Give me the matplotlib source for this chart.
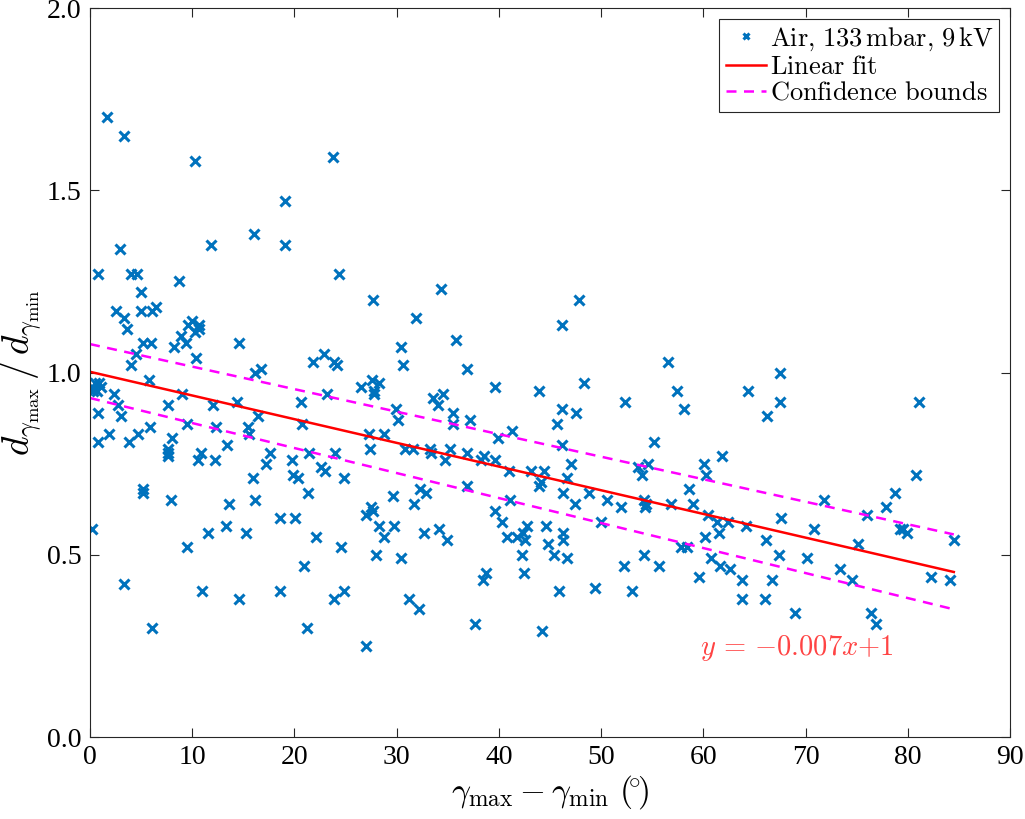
import numpy as np
import matplotlib
matplotlib.use('Agg')
import matplotlib.pyplot as plt
from matplotlib.ticker import FormatStrFormatter

# gamma_max - gamma_min (deg)
gamma_diff = [
    1.7, 3.3, 10.3, 23.8, 19.1, 16.0, 11.8, 19.1, 2.9, 0.8,
    4.0, 4.6, 8.7, 5.0, 2.5, 3.3, 5.0, 6.1, 6.5, 3.6,
    9.6, 10.0, 10.7, 10.3, 10.7, 8.9, 5.2, 6.0, 8.2, 9.4,
    14.6, 4.5, 4.0, 10.4, 21.8, 22.9, 16.1, 16.7, 5.8, 0.2,
    0.5, 0.9, 0.7, 0.3, 1.1, 2.3, 2.7, 0.8, 3.0, 9.0,
    7.6, 12.0, 14.4, 16.4, 20.6, 23.2, 9.5, 12.3, 5.9, 15.5,
    15.6, 20.7, 0.8, 1.9, 3.8, 4.7, 8.0, 7.6, 7.6, 7.6,
    10.9, 10.6, 12.2, 13.4, 17.6, 17.2, 19.8, 21.4, 22.6, 23.0,
    15.9, 19.9, 20.3, 21.3, 5.2, 5.2, 7.9, 13.6, 16.1, 18.6,
    20.1, 0.2, 13.3, 11.5, 15.3, 22.1, 9.5, 20.9, 3.3, 11.0,
    14.6, 18.6, 6.1, 21.2,
    24.4, 27.7, 34.3, 31.9, 35.8, 30.4, 30.6, 36.9, 46.2, 23.9,
    24.2, 26.5, 27.6, 28.3, 27.8, 27.8, 39.6, 43.9, 33.6, 34.5,
    34.0, 29.9, 30.1, 35.5, 35.5, 37.2, 46.2, 45.7, 46.2, 41.3,
    39.9, 27.3, 28.8, 27.4, 24.0, 30.8, 31.6, 33.3, 33.4, 35.2,
    34.7, 36.9, 38.2, 38.5, 39.6, 41.0, 43.1, 44.4, 44.1, 43.9,
    46.3, 24.8, 36.9, 32.3, 32.9, 29.6, 31.7, 41.1, 27.5, 27.0,
    27.7, 39.6, 40.3, 28.3, 29.7, 28.8, 32.7, 34.1, 34.9, 42.7,
    40.8, 41.8, 42.4, 42.6, 44.6, 44.8, 45.4, 46.3, 46.3, 24.6,
    28.0, 30.4, 42.3, 42.5, 38.7, 38.4, 45.9, 23.9, 24.8, 31.2,
    32.2, 37.7, 44.2, 27.0,
    47.8, 56.5, 67.5, 48.3, 57.4, 64.4, 52.3, 58.1, 67.5, 66.2,
    47.5, 55.2, 47.1, 46.7, 53.6, 54.6, 54.0, 60.1, 60.3, 61.8,
    48.8, 47.4, 50.6, 51.9, 50.0, 54.2, 54.4, 54.3, 56.8, 58.6,
    59.0, 60.5, 61.3, 62.4, 61.5, 64.2, 67.6, 60.2, 66.1, 46.7,
    57.8, 58.4, 54.2, 52.2, 55.7, 60.7, 61.6, 62.6, 67.4, 59.6,
    63.8, 66.7, 49.4, 53.0, 63.8, 66.0, 69.0,
    81.1, 80.8, 78.7, 77.9, 71.8, 76.0, 70.8, 79.2, 79.5, 79.9,
    84.5, 75.1, 70.1, 73.4, 74.5, 82.3, 84.1, 76.4, 76.9,
]

# d_gamma_max / d_gamma_min
d_ratio = [
    1.70, 1.65, 1.58, 1.59, 1.47, 1.38, 1.35, 1.35, 1.34, 1.27,
    1.27, 1.27, 1.25, 1.22, 1.17, 1.15, 1.17, 1.17, 1.18, 1.12,
    1.13, 1.14, 1.13, 1.11, 1.12, 1.10, 1.08, 1.08, 1.07, 1.08,
    1.08, 1.05, 1.02, 1.04, 1.03, 1.05, 1.00, 1.01, 0.98, 0.96,
    0.97, 0.97, 0.95, 0.95, 0.96, 0.94, 0.91, 0.89, 0.88, 0.94,
    0.91, 0.91, 0.92, 0.88, 0.92, 0.94, 0.86, 0.85, 0.85, 0.85,
    0.83, 0.86, 0.81, 0.83, 0.81, 0.83, 0.82, 0.79, 0.78, 0.77,
    0.78, 0.76, 0.76, 0.80, 0.78, 0.75, 0.76, 0.78, 0.74, 0.73,
    0.71, 0.72, 0.71, 0.67, 0.68, 0.67, 0.65, 0.64, 0.65, 0.60,
    0.60, 0.57, 0.58, 0.56, 0.56, 0.55, 0.52, 0.47, 0.42, 0.40,
    0.38, 0.40, 0.30, 0.30,
    1.27, 1.20, 1.23, 1.15, 1.09, 1.07, 1.02, 1.01, 1.13, 1.03,
    1.02, 0.96, 0.98, 0.97, 0.95, 0.94, 0.96, 0.95, 0.93, 0.94,
    0.91, 0.90, 0.87, 0.89, 0.86, 0.87, 0.90, 0.86, 0.80, 0.84,
    0.82, 0.83, 0.83, 0.79, 0.78, 0.79, 0.79, 0.79, 0.78, 0.79,
    0.76, 0.78, 0.76, 0.77, 0.76, 0.73, 0.73, 0.73, 0.70, 0.69,
    0.67, 0.71, 0.69, 0.68, 0.67, 0.66, 0.64, 0.65, 0.63, 0.61,
    0.62, 0.62, 0.59, 0.58, 0.58, 0.55, 0.56, 0.57, 0.54, 0.58,
    0.55, 0.55, 0.56, 0.54, 0.58, 0.53, 0.50, 0.56, 0.54, 0.52,
    0.50, 0.49, 0.50, 0.45, 0.45, 0.43, 0.40, 0.38, 0.40, 0.38,
    0.35, 0.31, 0.29, 0.25,
    1.20, 1.03, 1.00, 0.97, 0.95, 0.95, 0.92, 0.90, 0.92, 0.88,
    0.89, 0.81, 0.75, 0.71, 0.74, 0.75, 0.72, 0.75, 0.72, 0.77,
    0.67, 0.64, 0.65, 0.63, 0.59, 0.65, 0.64, 0.63, 0.64, 0.68,
    0.64, 0.61, 0.59, 0.59, 0.56, 0.58, 0.60, 0.55, 0.54, 0.49,
    0.52, 0.52, 0.50, 0.47, 0.47, 0.49, 0.47, 0.46, 0.50, 0.44,
    0.43, 0.43, 0.41, 0.40, 0.38, 0.38, 0.34,
    0.92, 0.72, 0.67, 0.63, 0.65, 0.61, 0.57, 0.57, 0.57, 0.56,
    0.54, 0.53, 0.49, 0.46, 0.43, 0.44, 0.43, 0.34, 0.31,
]

# fit and bounds (slope, intercept)
fit_coef = (-0.0065, 1.002)
upper_coef = (-0.00618, 1.078)
lower_coef = (-0.00686, 0.930)

plt.rcParams['font.family'] = 'serif'
plt.rcParams['font.serif'] = ['Liberation Serif', 'DejaVu Serif']
plt.rcParams['mathtext.fontset'] = 'cm'

fig = plt.figure(figsize=(10.25, 8.19), dpi=100)
ax = fig.add_axes([0.0878, 0.1001, 0.8976, 0.8901])

ax.plot(gamma_diff, d_ratio, 'x', color='#0072BD', markersize=6.5, mew=2.2,
        label=r'$\mathrm{Air{,}\ 133\,mbar{,}\ 9\,kV}$')

xf = np.linspace(0, max(gamma_diff), 50)
ax.plot(xf, fit_coef[0] * xf + fit_coef[1], color='red', lw=1.8,
        label=r'$\mathrm{Linear\ fit}$')
ax.plot(xf, upper_coef[0] * xf + upper_coef[1], '--', color='magenta', lw=1.8,
        dashes=(4, 3), label=r'$\mathrm{Confidence\ bounds}$')
ax.plot(xf, lower_coef[0] * xf + lower_coef[1], '--', color='magenta', lw=1.8,
        dashes=(4, 3))

ax.text(59.7, 0.245, r'$y\,=\,{-}0.007x{+}1$', color='#ff4444', fontsize=20.5,
        va='center', ha='left')

ax.set_xlim(0, 90)
ax.set_ylim(0, 2)
ax.set_xticks(range(0, 91, 10))
ax.set_yticks([0, 0.5, 1.0, 1.5, 2.0])
ax.yaxis.set_major_formatter(FormatStrFormatter('%.1f'))
ax.tick_params(direction='in', top=True, right=True, length=6.5, width=0.8,
               color='#262626', labelsize=20, pad=6)
for sp in ax.spines.values():
    sp.set_color('#262626')
    sp.set_linewidth(0.8)

ax.set_xlabel(r'$\gamma_{\max}-\gamma_{\min}\ (\!{}^{\circ}\!)$', fontsize=24, labelpad=2)
ax.set_ylabel(r'$d_{\gamma_{\max}}\,/\,d_{\gamma_{\min}}$', fontsize=27, labelpad=2)

leg = ax.legend(loc='upper right', fontsize=19, fancybox=False, framealpha=1,
                edgecolor='#262626', borderaxespad=0.4, handlelength=1.5,
                handletextpad=0.15, labelspacing=0.1, borderpad=0.25,
                markerscale=0.6)
leg.get_frame().set_linewidth(0.8)

fig.savefig('out.png', dpi=100)
